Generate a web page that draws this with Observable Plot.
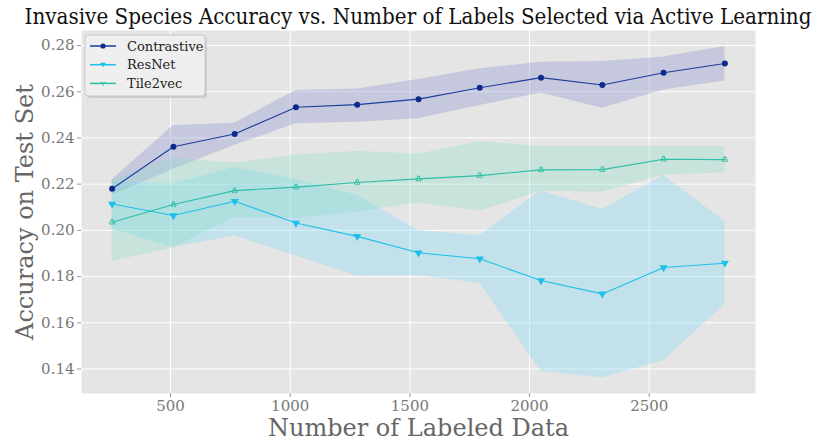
<!DOCTYPE html>
<html><head><meta charset="utf-8">
<script src="https://cdn.jsdelivr.net/npm/d3@7"></script>
<script src="https://cdn.jsdelivr.net/npm/@observablehq/plot@0.6"></script>
<style>
html,body{margin:0;padding:0;background:#fff;}
#wrap{position:relative;width:832px;height:442px;overflow:hidden;}
#title{display:block;}
#legend{position:absolute;left:84px;top:34px;}
</style></head><body>
<div id="wrap">
<svg id="title" width="832" height="30"><text id="tt" x="418" y="24" text-anchor="middle" font-family="DejaVu Serif Condensed, DejaVu Serif" font-stretch="condensed" font-size="22.2" fill="#111">Invasive Species Accuracy vs. Number of Labels Selected via Active Learning</text></svg>
<div id="chart"></div>
<div id="legend"></div>
</div>
<script>
const labels = [256, 512, 768, 1024, 1280, 1536, 1792, 2048, 2304, 2560, 2816];
const seriesNames = ["Contrastive", "ResNet", "Tile2vec"];
const contrastive   = [0.2180, 0.2362, 0.2417, 0.2533, 0.2544, 0.2568, 0.2617, 0.2661, 0.2629, 0.2682, 0.2722];
const contrastiveLo = [0.2152, 0.2264, 0.2368, 0.2461, 0.2468, 0.2483, 0.2540, 0.2594, 0.2529, 0.2608, 0.2646];
const contrastiveHi = [0.2219, 0.2454, 0.2464, 0.2605, 0.2612, 0.2653, 0.2699, 0.2728, 0.2731, 0.2750, 0.2796];
const resnet   = [0.2114, 0.2064, 0.2126, 0.2032, 0.1974, 0.1903, 0.1877, 0.1783, 0.1725, 0.1839, 0.1858];
const resnetLo = [0.2006, 0.1926, 0.1976, 0.1889, 0.1802, 0.1804, 0.1771, 0.1390, 0.1362, 0.1436, 0.1679];
const resnetHi = [0.2208, 0.2202, 0.2272, 0.2220, 0.2151, 0.1999, 0.1977, 0.2172, 0.2090, 0.2237, 0.2038];
const tile2vec   = [0.2035, 0.2112, 0.2172, 0.2187, 0.2207, 0.2223, 0.2237, 0.2262, 0.2263, 0.2308, 0.2306];
const tile2vecLo = [0.1865, 0.1924, 0.2057, 0.2051, 0.2078, 0.2120, 0.2083, 0.2169, 0.2165, 0.2240, 0.2249];
const tile2vecHi = [0.2216, 0.2314, 0.2290, 0.2326, 0.2341, 0.2331, 0.2384, 0.2363, 0.2363, 0.2363, 0.2363];
const xTicks = [500, 1000, 1500, 2000, 2500];
const yTicks = [0.14, 0.16, 0.18, 0.20, 0.22, 0.24, 0.26, 0.28];

const lineColors = {Contrastive: "#1d3c9e", ResNet: "#1ec0ea", Tile2vec: "#2bbfa3"};
const bandColors = {Contrastive: "#7e88c9", ResNet: "#74d8f5", Tile2vec: "#84dcc7"};

function rows(name, mean, lo, hi) {
  return labels.map((x, i) => ({series: name, x, y: mean[i], lo: lo[i], hi: hi[i]}));
}
const cData = rows("Contrastive", contrastive, contrastiveLo, contrastiveHi);
const rData = rows("ResNet", resnet, resnetLo, resnetHi);
const tData = rows("Tile2vec", tile2vec, tile2vecLo, tile2vecHi);

const font = "DejaVu Serif";
const chart = Plot.plot({
  width: 832, height: 412,
  marginLeft: 81, marginRight: 77, marginTop: 0, marginBottom: 49,
  style: {fontFamily: font, background: "transparent"},
  x: {domain: [128, 2944]},
  y: {domain: [0.1294, 0.2865]},
  marks: [
    Plot.frame({fill: "#e5e5e5", stroke: null}),
    Plot.gridX(xTicks, {stroke: "#ffffff", strokeOpacity: 1, strokeWidth: 1}),
    Plot.gridY(yTicks, {stroke: "#ffffff", strokeOpacity: 1, strokeWidth: 1}),
    Plot.areaY(cData, {x: "x", y1: "lo", y2: "hi", fill: bandColors.Contrastive, fillOpacity: 0.3}),
    Plot.areaY(rData, {x: "x", y1: "lo", y2: "hi", fill: bandColors.ResNet, fillOpacity: 0.3}),
    Plot.areaY(tData, {x: "x", y1: "lo", y2: "hi", fill: bandColors.Tile2vec, fillOpacity: 0.3}),
    Plot.line(cData, {x: "x", y: "y", stroke: lineColors.Contrastive, strokeWidth: 1.1}),
    Plot.dot(cData, {x: "x", y: "y", fill: "#0d2a8c", r: 3, symbol: "circle"}),
    Plot.line(rData, {x: "x", y: "y", stroke: lineColors.ResNet, strokeWidth: 1.1}),
    Plot.dot(rData, {x: "x", y: "y", fill: lineColors.ResNet, r: 3, symbol: "triangle", rotate: 180}),
    Plot.line(tData, {x: "x", y: "y", stroke: lineColors.Tile2vec, strokeWidth: 1.1}),
    Plot.dot(tData, {x: "x", y: "y", stroke: lineColors.Tile2vec, r: 2.2, symbol: "wye", rotate: 180, strokeWidth: 1}),
    Plot.axisX(xTicks, {tickSize: 4, tickPadding: 3, fontSize: 15, color: "#777", stroke: "#999", tickFormat: d3.format("d"), label: null}),
    Plot.axisY(yTicks, {tickSize: 4, tickPadding: 3, fontSize: 15, color: "#777", stroke: "#999", tickFormat: d3.format(".2f"), label: null}),
    Plot.text(["Number of Labeled Data"], {text: d => d, frameAnchor: "bottom", textAnchor: "middle", dy: 35, fontSize: 24, fill: "#666", lineAnchor: "middle"}),
    Plot.text(["Accuracy on Test Set"], {text: d => d, frameAnchor: "left", textAnchor: "middle", dx: -56, rotate: -90, fontSize: 24, fill: "#666", lineAnchor: "middle"})
  ]
});
document.getElementById("chart").appendChild(chart);

// keep the title inside the page if the font renders wider than expected
const tt = document.getElementById("tt");
const w = tt.getComputedTextLength();
if (w > 822) { tt.setAttribute("font-size", (22.2 * 822 / w).toFixed(2)); }

// legend
const legendRows = [
  {name: "Contrastive", color: lineColors.Contrastive, mark: "circle"},
  {name: "ResNet", color: lineColors.ResNet, mark: "tri"},
  {name: "Tile2vec", color: lineColors.Tile2vec, mark: "wye"}
];
const lg = d3.select("#legend").append("svg").attr("width", 128).attr("height", 68);
lg.append("rect").attr("x", 3).attr("y", 3).attr("width", 120).attr("height", 61).attr("rx", 3).attr("fill", "#bbb").attr("opacity", 0.6);
lg.append("rect").attr("x", 1).attr("y", 1).attr("width", 120).attr("height", 61).attr("rx", 3).attr("fill", "#efefef").attr("stroke", "#c8c8c8");
legendRows.forEach((r, i) => {
  const y = 12 + i * 18.7;
  lg.append("line").attr("x1", 6).attr("x2", 32).attr("y1", y).attr("y2", y).attr("stroke", r.color).attr("stroke-width", 1.5);
  if (r.mark === "circle") lg.append("circle").attr("cx", 19).attr("cy", y).attr("r", 2.6).attr("fill", "#0d2a8c");
  else if (r.mark === "tri") lg.append("path").attr("d", `M16,${y-2} L22,${y-2} L19,${y+2.5} Z`).attr("fill", r.color);
  else lg.append("path").attr("d", `M19,${y} L19,${y+2.5} M19,${y} L16.8,${y-1.3} M19,${y} L21.2,${y-1.3}`).attr("stroke", r.color);
  lg.append("text").attr("x", 43).attr("y", y).attr("dy", "0.35em").attr("font-family", "DejaVu Serif").attr("font-size", 13).attr("fill", "#222").text(r.name);
});
</script>
</body></html>
